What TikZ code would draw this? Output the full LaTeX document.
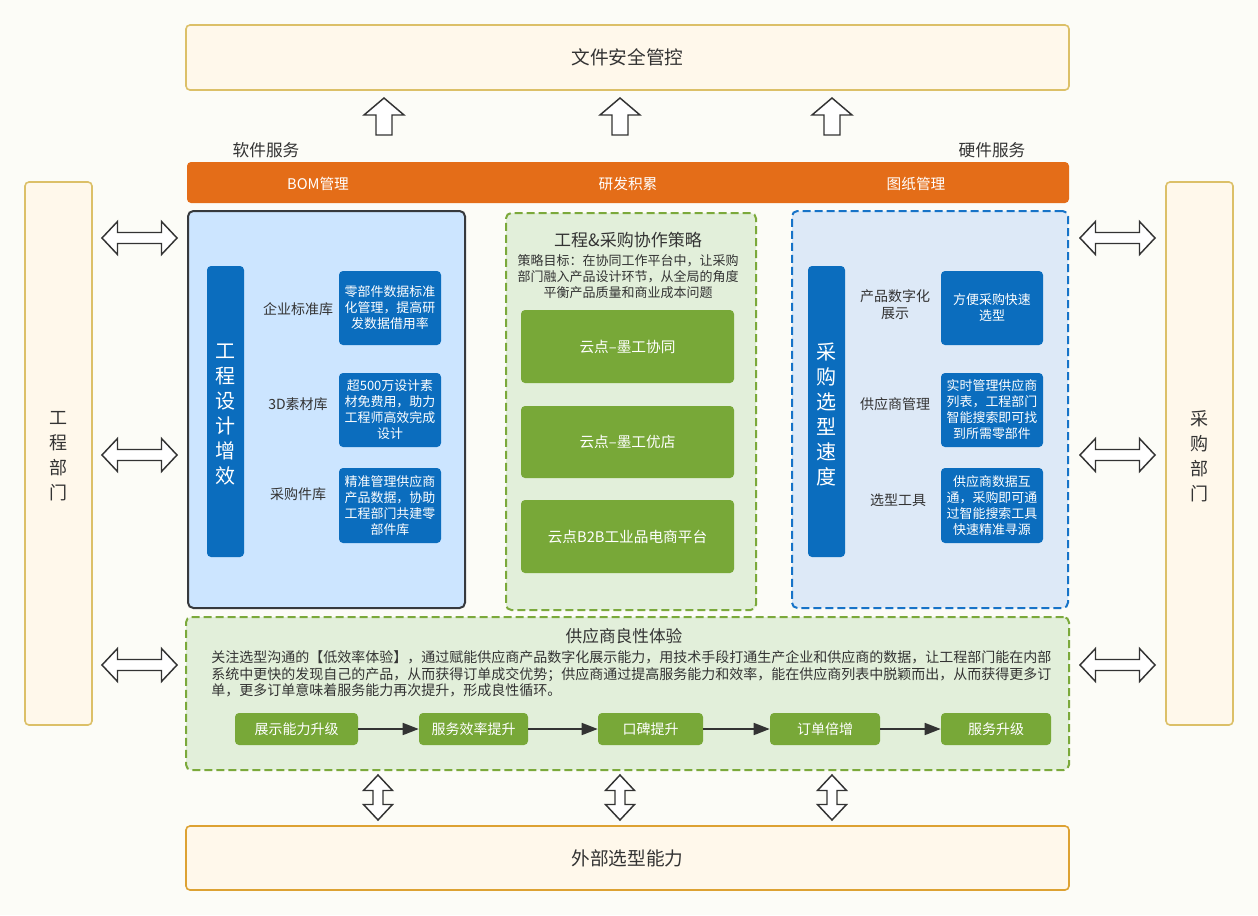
\documentclass[tikz,border=0pt]{standalone}
\usepackage{fontspec}
\setmainfont{Noto Sans CJK SC}
\usetikzlibrary{arrows.meta, positioning}

\definecolor{pagebg}{HTML}{FCFCF7}
\definecolor{creamfill}{HTML}{FFF8EB}
\definecolor{goldline}{HTML}{DCC068}
\definecolor{amberline}{HTML}{DDA233}
\definecolor{barorange}{HTML}{E46D18}
\definecolor{paleblue}{HTML}{CCE5FF}
\definecolor{panelblue}{HTML}{DDE9F7}
\definecolor{dashblue}{HTML}{1673C8}
\definecolor{deepblue}{HTML}{0B6DBE}
\definecolor{palegreen}{HTML}{E2EFDA}
\definecolor{dashgreen}{HTML}{7BA93B}
\definecolor{leafgreen}{HTML}{78A838}
\definecolor{inkgray}{HTML}{333333}
\definecolor{edgegray}{HTML}{36393D}

\newcommand{\fs}[2]{\fontsize{#1}{#2}\selectfont}

\tikzset{
  pxsize/.style 2 args={minimum width=#1*0.75pt, minimum height=#2*0.75pt, inner sep=0pt},
  cream/.style={draw=goldline, fill=creamfill, line width=1.2pt, rounded corners=3pt, text=inkgray},
  dashedpanel/.style={rounded corners=4pt, line width=1.5pt, dash pattern=on 6pt off 3pt},
  bluebar/.style={fill=deepblue, rounded corners=3pt, text=white, align=center, font=\fs{15}{18.75}},
  bluecard/.style={fill=deepblue, rounded corners=3pt, text=white, align=center, font=\fs{9.7}{12}},
  greencard/.style={fill=leafgreen, rounded corners=3pt, text=white, font=\fs{11}{13}},
  stepbox/.style={fill=leafgreen, rounded corners=3pt, text=white, font=\fs{10.5}{13}},
  sidelabel/.style={text=inkgray, align=center, font=\fs{10.5}{12.75}},
  blockarrow/.style={draw=inkgray, fill=white, line width=1.1pt, line join=miter},
  pics/lrarrow/.style={code={
    \draw[blockarrow] (-37.5,0) -- (-22,-16.5) -- (-22,-5.5) -- (22,-5.5) -- (22,-16.5)
      -- (37.5,0) -- (22,16.5) -- (22,5.5) -- (-22,5.5) -- (-22,16.5) -- cycle;}},
  pics/udarrow/.style={code={
    \draw[blockarrow] (0,-22.5) -- (14.5,-7) -- (5,-7) -- (5,7) -- (14.5,7)
      -- (0,22.5) -- (-14.5,7) -- (-5,7) -- (-5,-7) -- (-14.5,-7) -- cycle;}},
  pics/uparrow/.style={code={
    \draw[blockarrow] (0,-18.5) -- (20,-1.5) -- (8,-1.5) -- (8,18.5) -- (-8,18.5)
      -- (-8,-1.5) -- (-20,-1.5) -- cycle;}},
}

\begin{document}
\begin{tikzpicture}[x=0.75pt, y=-0.75pt, font=\fs{10.5}{13}, text=inkgray]
        % Page
        \fill[pagebg] (0,0) rectangle (1258,915);
        \useasboundingbox (0,0) rectangle (1258,915);
        % Top and bottom boxes
        \node[cream, pxsize={883}{65}, font=\fs{14}{16}] (filesec) at (627.5,57.5) {文件安全管控};
        \node[cream, draw=amberline, pxsize={883}{64}, font=\fs{14}{16}] (extselect) at (627.5,858) {外部选型能力};
        % Side columns
        \node[cream, pxsize={67}{543}] (engdept) at (58.5,453.5) {};
        \node[cream, pxsize={67}{543}] (purdept) at (1199.5,453.5) {};
        \node[align=center, font=\fs{13.5}{18.75}] at (58.5,456.5) {工\\程\\部\\门};
        \node[align=center, font=\fs{13.5}{18.75}] at (1199.5,456.5) {采\\购\\部\\门};
        % Service bar
        \node[fill=barorange, rounded corners=3pt, pxsize={882}{41}] (svcbar) at (628,182.5) {};
        \node[text=white, font=\fs{11}{13}] (bom) at (318,184) {BOM管理};
        \node[text=white, font=\fs{11}{13}] (rnd) at (628,184) {研发积累};
        \node[text=white, font=\fs{11}{13}] (drawing) at (916,184) {图纸管理};
        \node[font=\fs{12.5}{15}] (softsvc) at (266,150) {软件服务};
        \node[font=\fs{12.5}{15}] (hardsvc) at (992,150) {硬件服务};
        % Up arrows
        \foreach \ax in {384,620,832}
          \pic at (\ax,116.5) {uparrow};

        % Left panel: design
        \node[draw=edgegray, fill=paleblue, rounded corners=4pt, line width=1.5pt, pxsize={277}{397}] (designpanel) at (326.5,409.5) {};
        \node[bluebar, pxsize={37}{291}] (designbar) at (225.5,411.5) {};
        \node[text=white, align=center, font=\fs{15}{18.75}] at (225.5,415) {工\\程\\设\\计\\增\\效};
        \node[sidelabel] (stdlib) at (298,309) {企业标准库};
        \node[sidelabel] (matlib) at (298,404) {3D素材库};
        \node[sidelabel] (purlib) at (298,494) {采购件库};
        \node[bluecard, pxsize={102}{74}] (stdcard) at (390,308) {零部件数据标准\\化管理，提高研\\发数据借用率};
        \node[bluecard, pxsize={102}{74}] (matcard) at (390,410) {超500万设计素\\材免费用，助力\\工程师高效完成\\设计};
        \node[bluecard, pxsize={102}{75}] (purcard) at (390,505.5) {精准管理供应商\\产品数据，协助\\工程部门共建零\\部件库};

        % Middle panel: strategy
        \node[dashedpanel, draw=dashgreen, fill=palegreen, pxsize={250}{397}] (strategypanel) at (631,411.5) {};
        \node[font=\fs{12.75}{15}] (strategytitle) at (628,240) {工程\&采购协作策略};
        \node[align=center, font=\fs{9.75}{12}] (strategygoal) at (628,277) {策略目标：在协同工作平台中，让采购\\部门融入产品设计环节，从全局的角度\\平衡产品质量和商业成本问题};
        \node[greencard, pxsize={213}{73}] (collab) at (627.5,346.5) {云点–墨工协同};
        \node[greencard, pxsize={213}{72}] (shop) at (627.5,442) {云点–墨工优店};
        \node[greencard, pxsize={213}{73}] (mall) at (627.5,536.5) {云点B2B工业品电商平台};

        % Right panel: selection
        \node[dashedpanel, draw=dashblue, fill=panelblue, pxsize={276}{397}] (selectpanel) at (930,409.5) {};
        \node[bluebar, pxsize={37}{291}] (selectbar) at (826.5,411.5) {};
        \node[text=white, align=center, font=\fs{15}{18.75}] at (826.5,415) {采\\购\\选\\型\\速\\度};
        \node[sidelabel] (showlbl) at (895,304.5) {产品数字化\\展示};
        \node[sidelabel] (suplbl) at (895,404) {供应商管理};
        \node[sidelabel] (toollbl) at (898,500) {选型工具};
        \node[bluecard, pxsize={102}{74}] (showcard) at (992,308) {方便采购快速\\选型};
        \node[bluecard, pxsize={102}{74}] (supcard) at (992,410) {实时管理供应商\\列表，工程部门\\智能搜索即可找\\到所需零部件};
        \node[bluecard, pxsize={102}{75}] (toolcard) at (992,505.5) {供应商数据互\\通，采购即可通\\过智能搜索工具\\快速精准寻源};

        % Bottom panel: supplier experience
        \node[dashedpanel, draw=dashgreen, fill=palegreen, pxsize={883}{153}] (supplierpanel) at (627.5,693.5) {};
        \node[font=\fs{12.5}{15}] (suppliertitle) at (624,636) {供应商良性体验};
        \node[anchor=north west, inner sep=0pt, align=left, font=\fs{10.5}{12.4}] (supplierdesc) at (211,650.5)
          {关注选型沟通的【低效率体验】，通过赋能供应商产品数字化展示能力，用技术手段打通生产企业和供应商的数据，让工程部门能在内部\\
           系统中更快的发现自己的产品，从而获得订单成交优势；供应商通过提高服务能力和效率，能在供应商列表中脱颖而出，从而获得更多订\\
           单，更多订单意味着服务能力再次提升，形成良性循环。};
        % Steps
        \node[stepbox, pxsize={123}{32}] (s1) at (296.5,729) {展示能力升级};
        \node[stepbox, pxsize={109}{32}] (s2) at (473.5,729) {服务效率提升};
        \node[stepbox, pxsize={105}{32}] (s3) at (650.5,729) {口碑提升};
        \node[stepbox, pxsize={110}{32}] (s4) at (825,729) {订单倍增};
        \node[stepbox, pxsize={110}{32}] (s5) at (996,729) {服务升级};
        \foreach \a/\b in {s1/s2, s2/s3, s3/s4, s4/s5}
          \draw[-{Triangle[length=12pt, width=9pt]}, draw=inkgray, fill=inkgray, line width=1.2pt] (\a) -- (\b);

        % Side arrows
        \foreach \ay in {238,455,665} {
          \pic at (139.5,\ay) {lrarrow};
          \pic at (1117.5,\ay) {lrarrow};
        }
        % Bottom arrows
        \foreach \ax in {378,620,832}
          \pic at (\ax,797.5) {udarrow};
    \end{tikzpicture}
\end{document}
